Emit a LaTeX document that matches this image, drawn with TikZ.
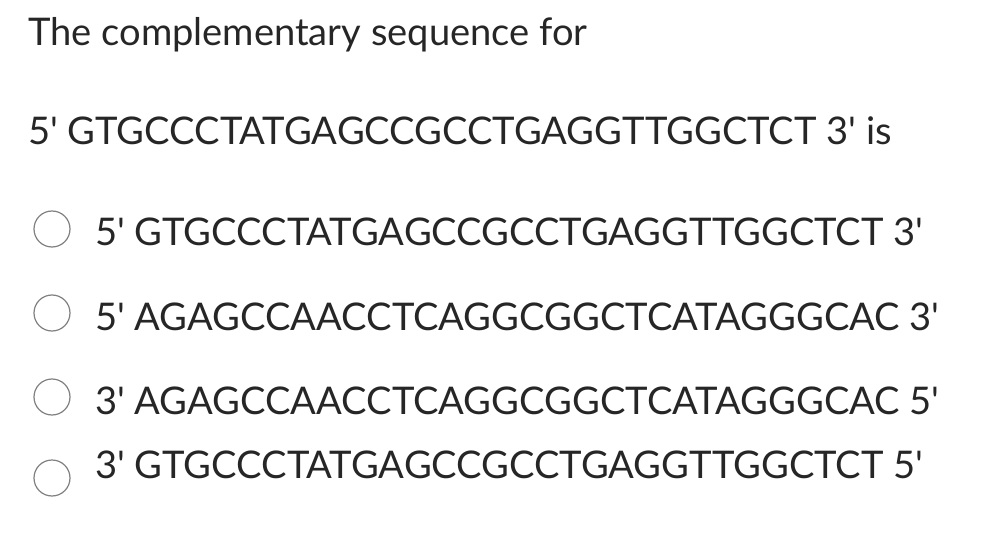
\documentclass[tikz,border=0pt]{standalone}
\usepackage{fontspec}
\newfontfamily\latoplain{Lato}
\begin{document}
\begin{tikzpicture}[x=1pt,y=-1pt,
  txt/.style={anchor=base west,inner sep=0pt,font=\latoplain\fontsize{38.1}{44}\selectfont,text=black!85},
  radio/.style={circle,draw=black!50,line width=1.2pt,minimum size=36pt,inner sep=0pt,fill=white}]
\useasboundingbox (0,0) rectangle (984,534);
\node[txt] (q1) at (28,46) {The complementary sequence for};
\node[txt] (q2) at (28,145) {5' GTGCCCTATGAGCCGCCTGAGGTTGGCTCT 3' is};
\node[radio] (r1) at (52,229) {};
\node[radio] (r2) at (52,313) {};
\node[radio] (r3) at (52,397) {};
\node[radio] (r4) at (52,478) {};
\node[txt] (o1) at (95,246) {5' GTGCCCTATGAGCCGCCTGAGGTTGGCTCT 3'};
\node[txt] (o2) at (95,330) {5' AGAGCCAACCTCAGGCGGCTCATAGGGCAC 3'};
\node[txt] (o3) at (95,414) {3' AGAGCCAACCTCAGGCGGCTCATAGGGCAC 5'};
\node[txt] (o4) at (95,478) {3' GTGCCCTATGAGCCGCCTGAGGTTGGCTCT 5'};
\end{tikzpicture}
\end{document}
